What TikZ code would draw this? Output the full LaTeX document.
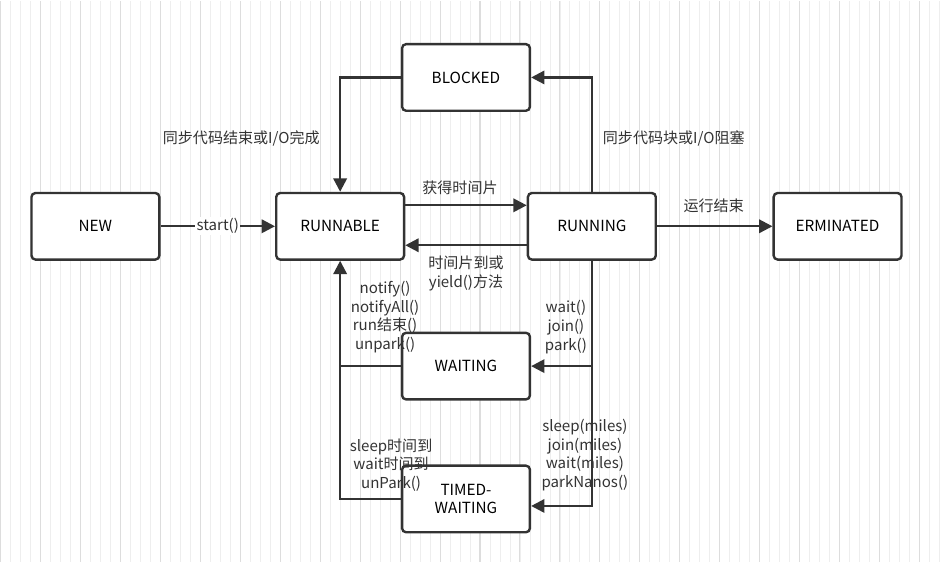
\documentclass[tikz,border=0pt]{standalone}
\usepackage{fontspec}
\setmainfont{Noto Sans CJK SC}
\usetikzlibrary{arrows.meta}
\definecolor{ln}{HTML}{333333}
\definecolor{gmin}{HTML}{EEEEEE}
\definecolor{gmaj}{HTML}{DDDDDD}
\begin{document}
\begin{tikzpicture}[x=0.75pt,y=-0.75pt,
 st/.style={draw=ln,line width=1.8pt,rounded corners=3pt,minimum width=96pt,minimum height=50pt,fill=white,font=\fontsize{11.5}{13}\selectfont,align=center},
 ar/.style={draw=ln,line width=1.8pt,-{Triangle[length=10pt,width=10pt]}},
 lb/.style={font=\fontsize{11.3}{14}\selectfont,align=center,text=ln,inner sep=1pt}]
\fill[white] (0,0) rectangle (942,562);
\draw[gmin,line width=0.6pt] (0,0) grid[step=10] (942,562);
\draw[gmaj,line width=0.8pt] (0,0) grid[step=40] (942,562);
\useasboundingbox (0,0) rectangle (942,562);
\node[st] (new) at (95,226) {NEW};
\node[st] (rbl) at (340,226) {RUNNABLE};
\node[st] (rng) at (592,226) {RUNNING};
\node[st] (ter) at (838,226) {ERMINATED};
\node[st] (blk) at (466,77) {BLOCKED};
\node[st] (wai) at (466,366) {WAITING};
\node[st] (tim) at (466,499) {TIMED-\\WAITING};
\draw[ar] (new) -- node[lb,fill=white] {start()} (rbl);
\draw[ar] (rbl.east|-0,205) -- (rng.west|-0,205);
\node[lb] (l1) at (460,187) {获得时间片};
\draw[ar] (rng.west|-0,245) -- (rbl.east|-0,245);
\node[lb] (l2) at (466,273) {时间片到或\\yield()方法};
\draw[ar] (rng) -- (ter);
\node[lb] (l3) at (714,206) {运行结束};
\draw[ar] (rng.north) |- (blk.east);
\node[lb] (l4) at (674,138) {同步代码块或I/O阻塞};
\draw[ar] (blk.west) -| (rbl.north);
\node[lb] (l5) at (241,138) {同步代码结束或I/O完成};
\draw[ar] (rng.south) |- (wai.east);
\node[lb] (l6) at (566,327) {wait()\\join()\\park()};
\draw[ar] (rng.south) |- (tim.east|-0,506);
\node[lb] (l7) at (585,455) {sleep(miles)\\join(miles)\\wait(miles)\\parkNanos()};
\draw[ar] (wai.west) -| (rbl.south);
\draw[draw=ln,line width=1.8pt] (tim.west) -| (rbl.south|-wai.west);
\node[lb] (l8) at (385,317) {notify()\\notifyAll()\\run结束()\\unpark()};
\node[lb] (l9) at (391,465) {sleep时间到\\wait时间到\\unPark()};
\end{tikzpicture}
\end{document}
